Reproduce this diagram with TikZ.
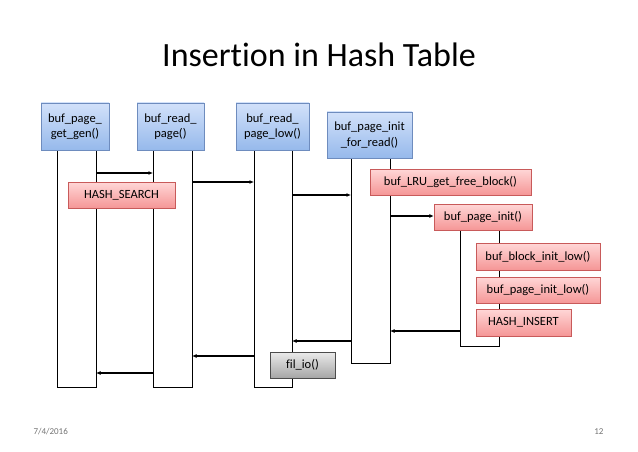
\documentclass[tikz,border=0pt]{standalone}
\usepackage{fontspec}
\setmainfont[Ligatures=NoCommon]{Carlito}
\usetikzlibrary{arrows.meta}
\tikzset{
  hdr/.style={draw={rgb,255:red,110;green,140;blue,190},top color={rgb,255:red,210;green,225;blue,250},bottom color={rgb,255:red,150;green,185;blue,235},inner sep=0pt,align=center,font=\fontsize{12.5}{15.5}\selectfont},
  fn/.style={draw={rgb,255:red,200;green,90;blue,90},top color={rgb,255:red,255;green,215;blue,215},bottom color={rgb,255:red,245;green,150;blue,150},inner sep=0pt,font=\fontsize{12.5}{15}\selectfont},
  io/.style={draw=black!70,top color=black!8,bottom color=black!35,inner sep=0pt,font=\fontsize{12.5}{15}\selectfont},
  life/.style={draw=black,line width=0.9pt},
  msg/.style={draw=black,line width=1.3pt,-{Latex[length=4.5pt,width=4pt]}}
}
\begin{document}
\begin{tikzpicture}[x=1pt,y=-1pt]
\useasboundingbox (0,0) rectangle (638,452);

%Lifelines
\draw[life] (57,150) -- (57,387) -- (96,387) -- (96,150);
\draw[life] (153,150) -- (153,387) -- (192,387) -- (192,150);
\draw[life] (254,150) -- (254,387) -- (292,387) -- (292,150);
\draw[life] (351,158) -- (351,363) -- (390,363) -- (390,158);
\draw[life] (460,230) -- (460,346) -- (499,346) -- (499,230);

% Title
\node (title) at (319,55) {\fontsize{34}{38}\selectfont Insertion in Hash Table};

% Headers
\node[hdr,minimum width=68,minimum height=47] (pgen) at (75,126.5) {buf\_page\_\\get\_gen()};
\node[hdr,minimum width=67,minimum height=47] (rpage) at (170.5,126.5) {buf\_read\_\\page()};
\node[hdr,minimum width=73,minimum height=47] (rlow) at (272.5,126.5) {buf\_read\_\\page\_low()};
\node[hdr,minimum width=85,minimum height=46] (pinit) at (369.5,135) {buf\_page\_init\\\_for\_read()};

% Calls
\node[fn,minimum width=107,minimum height=26] (hsearch) at (121.5,195) {HASH\_SEARCH};
\node[fn,minimum width=161,minimum height=26] (lru) at (450.5,182) {buf\_LRU\_get\_free\_block()};
\node[fn,minimum width=98,minimum height=26] (binit) at (483,217) {buf\_page\_init()};
\node[fn,minimum width=124,minimum height=27] (blklow) at (538,256.5) {buf\_block\_init\_low()};
\node[fn,minimum width=124,minimum height=26] (pglow) at (538,290) {buf\_page\_init\_low()};
\node[fn,minimum width=95,minimum height=27] (hinsert) at (523.5,322.5) {HASH\_INSERT};
\node[io,minimum width=65,minimum height=26] (filio) at (302.5,365) {fil\_io()};

% Message ends
\coordinate (a1) at (96,173);  \coordinate (a2) at (153,173);
\coordinate (b1) at (192,182); \coordinate (b2) at (254,182);
\coordinate (c1) at (292,195); \coordinate (c2) at (351,195);
\coordinate (d1) at (390,216);
\coordinate (r1) at (460,331); \coordinate (r2) at (390,331);
\coordinate (s1) at (351,341); \coordinate (s2) at (292,341);
\coordinate (t1) at (254,356); \coordinate (t2) at (192,356);
\coordinate (u1) at (153,373); \coordinate (u2) at (96,373);

\draw[msg] (a1) -- (a2);
\draw[msg] (b1) -- (b2);
\draw[msg] (c1) -- (c2);
\draw[msg] (d1) -- (binit.west |- d1);
\draw[msg] (r1) -- (r2);
\draw[msg] (s1) -- (s2);
\draw[msg] (t1) -- (t2);
\draw[msg] (u1) -- (u2);

% Footer
\node[anchor=west,text=black!55,font=\fontsize{9}{11}\selectfont] (date) at (30,432) {7/4/2016};
\node[anchor=east,text=black!55,font=\fontsize{9}{11}\selectfont] (num) at (607,432) {12};
\end{tikzpicture}
\end{document}
